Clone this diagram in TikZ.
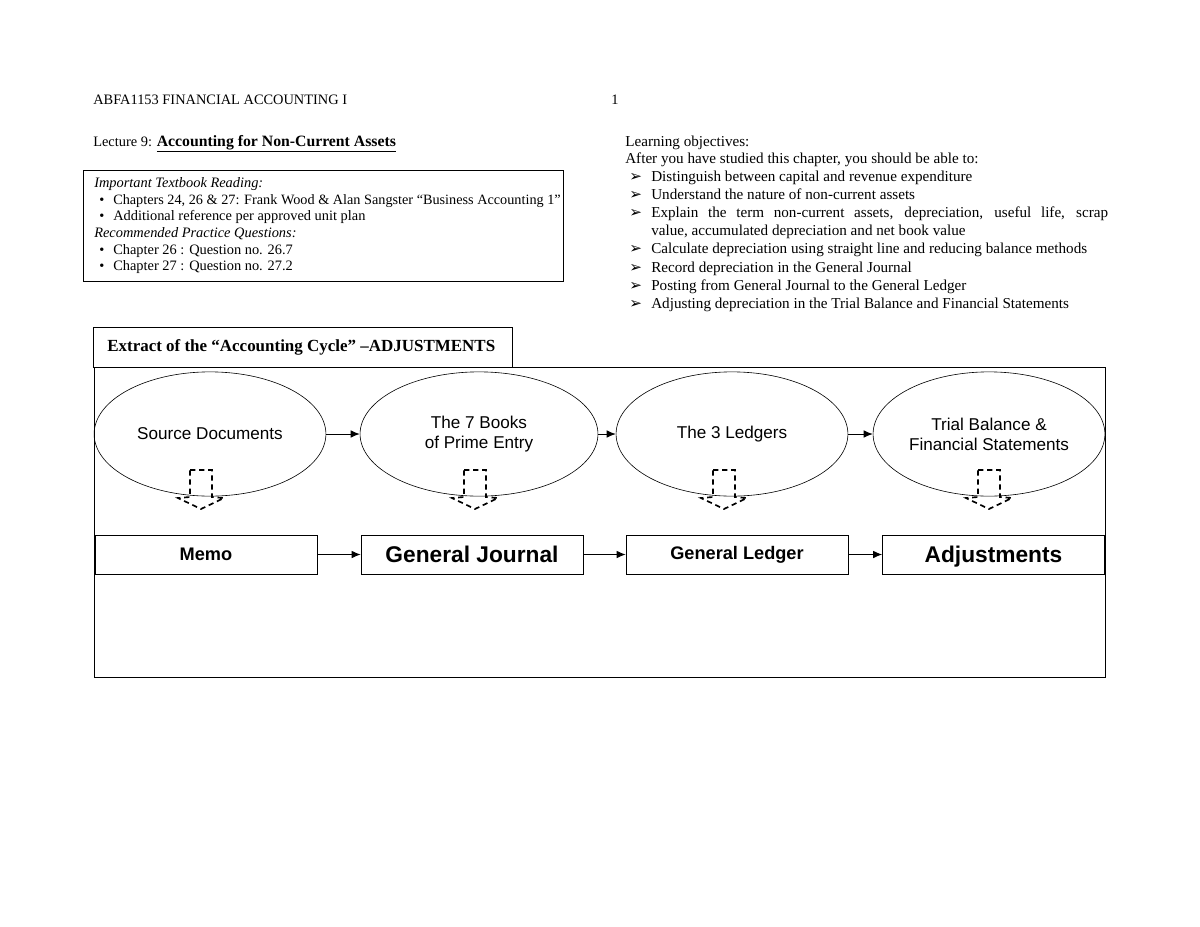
\documentclass[tikz,border=0pt]{standalone}
\usepackage{fontspec}
\setmainfont{Liberation Serif}
\newfontfamily\arialfont{Liberation Sans}
\newfontfamily\dejavufont{DejaVu Sans}
\usetikzlibrary{shapes.geometric, arrows.meta}

\begin{document}
\begin{tikzpicture}[x=0.66pt, y=-0.66pt,
  txt/.style={anchor=base west, inner sep=0pt, font=\fontsize{9.5}{11.4}\selectfont},
  obj/.style={txt, font=\fontsize{10}{11.9}\selectfont},
  pointer/.style={anchor=base west, inner sep=0pt, font=\dejavufont\bfseries\fontsize{10}{10}\selectfont},
  cycle/.style={ellipse, draw, thin, minimum width=153pt, minimum height=82pt, inner sep=0pt,
    align=center, font=\arialfont\fontsize{11.3}{13.2}\selectfont},
  stagebox/.style={rectangle, draw, thin, minimum width=146.5pt, minimum height=25.7pt, inner sep=0pt,
    font=\arialfont\bfseries\fontsize{12}{14}\selectfont},
  bigstage/.style={stagebox, text height=12pt, text depth=1.2pt,
    font=\arialfont\bfseries\fontsize{15}{17}\selectfont},
  link/.style={-{Latex[length=6pt,width=5pt]}, line width=0.6pt}]
\useasboundingbox (0,0) rectangle (1200,927);

% page header
\node[txt] (course) at (93,104) {ABFA1153 FINANCIAL ACCOUNTING I};
\node[txt] (page) at (611,104) {1};
\node[txt] (lecture) at (93,146) {Lecture 9: {\fontsize{10.4}{12}\selectfont\textbf{\underline{Accounting for Non-Current Assets}}}};

% reading box
\draw (83,170) rectangle (563,281);
\node[txt] (reading) at (94,187) {\itshape Important Textbook Reading:};
\node[txt] (dot1) at (99,204) {•};
\node[txt, font=\fontsize{9.4}{11.4}\selectfont] (read1) at (113,204) {Chapters 24, 26 \& 27: Frank Wood \& Alan Sangster “Business Accounting 1”};
\node[txt] (dot2) at (99,220) {•};
\node[txt] (read2) at (113,220) {Additional reference per approved unit plan};
\node[txt] (practice) at (94,237) {\itshape Recommended Practice Questions:};
\node[txt] (dot3) at (99,254) {•};
\node[txt] (quest1) at (113,254) {Chapter 26 : Question no. 26.7};
\node[txt] (dot4) at (99,270) {•};
\node[txt] (quest2) at (113,270) {Chapter 27 : Question no. 27.2};

% learning objectives
\node[obj] (objectives) at (625,146) {Learning objectives:};
\node[obj] (after) at (625,163) {After you have studied this chapter, you should be able to:};
\foreach \y in {181,199,217,253,272,290,308}
  \node[pointer] at (629,\y) {➢};
\node[obj] (obj1) at (651,181) {Distinguish between capital and revenue expenditure};
\node[obj] (obj2) at (651,199) {Understand the nature of non-current assets};
\node[obj, anchor=north west, text width=301.5pt, align=justify]
  (obj3) at (651,206.5) {Explain the term non-current assets, depreciation, useful life, scrap\linebreak
  value, accumulated depreciation and net book value};
\node[obj] (obj4) at (651,253) {Calculate depreciation using straight line and reducing balance methods};
\node[obj] (obj5) at (651,272) {Record depreciation in the General Journal};
\node[obj] (obj6) at (651,290) {Posting from General Journal to the General Ledger};
\node[obj] (obj7) at (651,308) {Adjusting depreciation in the Trial Balance and Financial Statements};

% accounting cycle
\draw (93,327) rectangle (512,367);
\node[anchor=base west, inner sep=0pt, font=\bfseries\fontsize{11.2}{13}\selectfont] (extract) at (107,351)
  {Extract of the “Accounting Cycle” –ADJUSTMENTS};
\draw (94,367) rectangle (1105,677);

\node[cycle] (source) at (210,434) {Source Documents};
\node[cycle, minimum width=157pt] (prime) at (479,434) {The 7 Books\\of Prime Entry};
\node[cycle] (ledgers) at (732,434) {The 3 Ledgers};
\node[cycle] (trial) at (989,434) {Trial Balance \&\\Financial Statements};

\draw[link] (source) -- (prime);
\draw[link] (prime) -- (ledgers);
\draw[link] (ledgers) -- (trial);

\foreach \ax in {201,475,724,989}
  \draw[line width=1.1pt, dash pattern=on 3.5pt off 2.5pt]
    ({\ax-11},470) -- ({\ax+11},470) -- ({\ax+11},497) -- ({\ax+23},498) -- (\ax,509)
    -- ({\ax-23},498) -- ({\ax-11},497) -- cycle;

\node[stagebox] (memo) at (206,554.5) {Memo};
\node[bigstage] (journal) at (472,554.5) {General Journal};
\node[stagebox] (ledger) at (737,554.5) {General Ledger};
\node[bigstage] (adjust) at (993.5,554.5) {Adjustments};

\draw[link] (memo) -- (journal);
\draw[link] (journal) -- (ledger);
\draw[link] (ledger) -- (adjust);
\end{tikzpicture}
\end{document}
